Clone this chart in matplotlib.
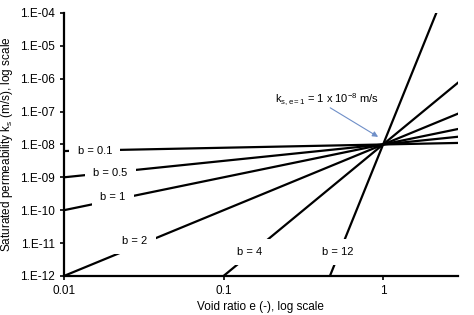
import math
import matplotlib
matplotlib.use("Agg")
import matplotlib.pyplot as plt
from matplotlib.ticker import FixedLocator, FuncFormatter

plt.rcParams['font.family'] = ['Liberation Sans', 'DejaVu Sans']
plt.rcParams['mathtext.fontset'] = 'custom'
plt.rcParams['mathtext.rm'] = 'Liberation Sans'
plt.rcParams['mathtext.it'] = 'Liberation Sans'

#########################################################
# Data
#########################################################

b_labels = ['b = 0.1', 'b = 0.5', 'b = 1', 'b = 2', 'b = 4', 'b = 12']
x_start = [0.01, 0.01, 0.01, 0.01, 0.1, 0.464]
y_start = [6.3e-9, 1e-9, 1e-10, 1e-12, 1e-12, 1e-12]
x_end = [2.94, 2.94, 2.94, 2.94, 2.94, 2.154]
y_end = [1.11e-8, 1.71e-8, 2.94e-8, 8.6e-8, 7.5e-7, 1e-4]

label_x = [0.0156, 0.0195, 0.0203, 0.0279, 0.1445, 0.522]
label_y = [6.4e-9, 1.38e-9, 2.6e-10, 1.17e-11, 5.4e-12, 5.4e-12]

y_ticks = [1e-12, 1e-11, 1e-10, 1e-9, 1e-8, 1e-7, 1e-6, 1e-5, 1e-4]
x_ticks = [0.01, 0.1, 1]
x_ticklabels = ['0.01', '0.1', '1']

#########################################################
# Plot
#########################################################

fig = plt.figure(figsize=(4.74, 3.15), dpi=100)
ax = fig.add_axes([0.135, 0.124, 0.831, 0.835])

for i in range(len(b_labels)):
    ax.plot([x_start[i], x_end[i]], [y_start[i], y_end[i]], color='black', lw=1.6, zorder=2)
    ax.text(label_x[i], label_y[i], b_labels[i], fontsize=8, ha='center', va='center', zorder=3,
            bbox=dict(boxstyle='square,pad=0.75', fc='white', ec='none'))

ax.set_xscale('log')
ax.set_yscale('log')
ax.set_xlim(0.01, 2.94)
ax.set_ylim(1e-12, 1e-4)

ax.yaxis.set_major_locator(FixedLocator(y_ticks))
ax.yaxis.set_major_formatter(FuncFormatter(lambda v, p: '1.E%+03d' % round(math.log10(v))))
ax.yaxis.set_minor_locator(FixedLocator([]))
ax.xaxis.set_major_locator(FixedLocator(x_ticks))
ax.set_xticklabels(x_ticklabels)
ax.xaxis.set_minor_locator(FixedLocator([]))

ax.tick_params(axis='both', labelsize=8.5, direction='out', length=3, width=1.2, color='black')
for s in ['top', 'right']:
    ax.spines[s].set_visible(False)
for s in ['left', 'bottom']:
    ax.spines[s].set_linewidth(1.6)

ax.set_xlabel('Void ratio e (-), log scale', fontsize=8.5, labelpad=3)
ax.set_ylabel('Saturated permeability k$_\\mathregular{s}$ (m/s), log scale', fontsize=8.5, labelpad=4)

# annotation text and arrow
ax.text(0.21, 2.3e-7, 'k$_\\mathregular{s,e=1}$ = 1 x 10$^\\mathregular{-8}$ m/s',
        fontsize=8, ha='left', va='center', zorder=4)
ax.annotate('', xy=(0.93, 1.7e-8), xytext=(0.466, 1.3e-7),
            arrowprops=dict(arrowstyle='-|>', color='#6f8fc8', lw=0.8, mutation_scale=8,
                            shrinkA=0, shrinkB=0),
            zorder=4)

fig.savefig('out.png', dpi=100)
